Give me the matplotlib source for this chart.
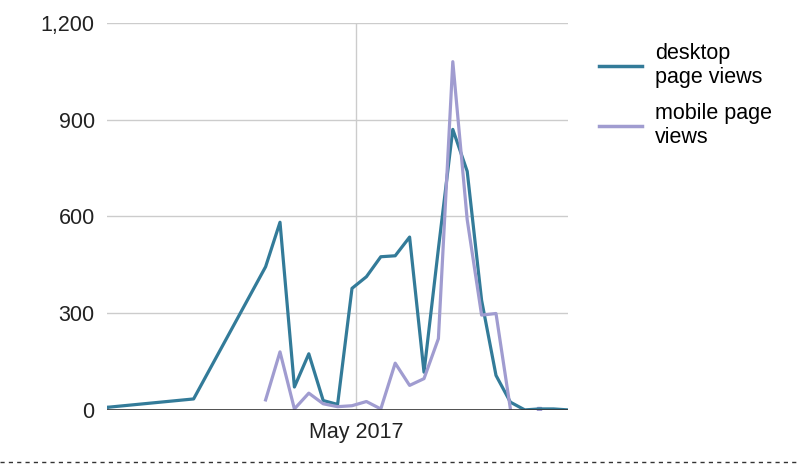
import numpy as np
import matplotlib
matplotlib.use("Agg")
import matplotlib.pyplot as plt
from matplotlib.lines import Line2D

plt.rcParams['font.family'] = ['Liberation Sans', 'DejaVu Sans']

nan = np.nan
days = np.arange(33)
desktop = [8, nan, nan, nan, nan, nan, 34, nan, nan, nan, nan, 444, 582, 71, 174, 29, 17,
           377, 413, 475, 478, 536, 117, 500, 870, 740, 340, 107, 24, 0, 3, 3, 0]
mobile = [8, nan, nan, nan, nan, nan, nan, nan, nan, nan, nan, 31, 180, 3, 52, 19, 10,
          13, 26, 3, 145, 76, 97, 221, 1080, 590, 294, 299, 3, nan, 3, nan, nan]
yticks = [0, 300, 600, 900, 1200]

c_desk = "#337b99"
c_mob = "#a09cd0"

fig = plt.figure(figsize=(8, 4.69), dpi=100)
ax = fig.add_axes([0.134, 0.126, 0.576, 0.825])

# desktop line joins across missing days
dy = np.array(desktop, dtype=float)
m = ~np.isnan(dy)
ax.plot(days[m], dy[m], color=c_desk, lw=2.3, zorder=3)
# mobile: contiguous runs only
my = np.array(mobile, dtype=float)
ax.plot(days[:1], my[:1], color=c_mob, marker="s", ms=2, lw=0)
ax.plot(days[11:29], my[11:29], color=c_mob, lw=2.3, zorder=4)
ax.plot([30], [3], color=c_mob, marker="s", ms=3, lw=0)

ax.set_xlim(0, 32)
ax.set_ylim(0, 1200)
ax.set_yticks(yticks)
ax.set_yticklabels([f"{v:,}" for v in yticks])
ax.set_xticks([17.3])
ax.set_xticklabels(["May 2017"])
ax.grid(True, color="#cccccc", lw=1)
ax.axhline(0, color="#333333", lw=1.2, zorder=5)
for s in ax.spines.values():
    s.set_visible(False)
ax.tick_params(length=0, labelsize=15.5, colors="#222222", pad=9)

handles = [Line2D([], [], color=c_desk, lw=2.5), Line2D([], [], color=c_mob, lw=2.5)]
fig.legend(handles, ["desktop\npage views", "mobile page\nviews"], loc="upper left",
           bbox_to_anchor=(0.725, 0.95), frameon=False, fontsize=15.5,
           handlelength=2.0, labelspacing=0.7, handletextpad=0.6)

fig.add_artist(Line2D([0, 1], [0.015, 0.015], color="#333333", lw=1, ls=(0, (3, 3))))

fig.savefig("out.png", dpi=100)
